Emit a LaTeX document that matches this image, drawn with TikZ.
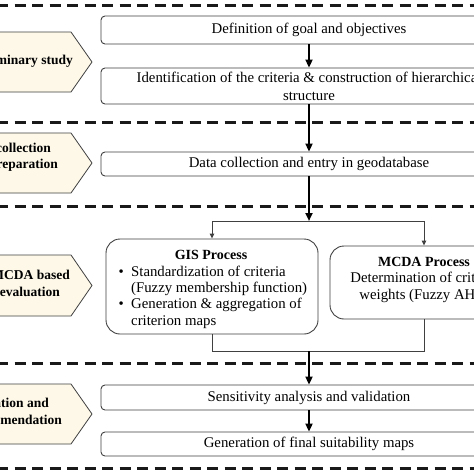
\documentclass[tikz,border=0pt]{standalone}
\usepackage{fontspec}
\setmainfont{Liberation Serif}
\usetikzlibrary{arrows.meta}
\definecolor{stagefill}{RGB}{253,248,232}
\definecolor{boxline}{RGB}{64,64,64}
\definecolor{dashcol}{RGB}{25,25,25}
\begin{document}
\begin{tikzpicture}[x=1pt,y=-1pt,
 sepline/.style={draw=dashcol, line width=3pt, dash pattern=on 11pt off 6.5pt},
 stage/.style={draw=boxline, line width=0.8pt, fill=stagefill},
 stagetxt/.style={font=\fontsize{13.5}{15.5}\selectfont\bfseries, anchor=mid east, inner sep=0pt},
 flowbox/.style={draw=boxline, line width=0.9pt, rounded corners=4pt, minimum width=416pt, inner sep=0pt, align=center, font=\fontsize{14.8}{18}\selectfont},
 procbox/.style={draw=boxline, line width=0.9pt, rounded corners=14pt, inner sep=0pt},
 headtxt/.style={font=\fontsize{14}{16}\selectfont\bfseries, inner sep=0pt},
 bodytxt/.style={font=\fontsize{14.8}{17}\selectfont, inner sep=0pt, align=center},
 mainarrow/.style={draw=black, line width=2pt, -{Triangle[length=8pt,width=7pt]}},
 thinline/.style={draw=boxline, line width=0.9pt},
 thinarrow/.style={thinline, -{Triangle[length=5pt,width=4.5pt]}},
]
\useasboundingbox (0,0) rectangle (474,474);
\clip (0,0) rectangle (474,474);
\fill[white] (0,0) rectangle (474,474);

% separators
\foreach \yy in {5,122,206,363,468} \draw[sepline] (-3,\yy) -- (480,\yy);

% stage pentagons
\draw[stage] (-40,32) -- (71,32) -- (92,62) -- (71,92) -- (-40,92) -- cycle;
\draw[stage] (-40,133) -- (71,133) -- (92,163) -- (71,193) -- (-40,193) -- cycle;
\draw[stage] (-40,255) -- (71,255) -- (92,285.5) -- (71,316) -- (-40,316) -- cycle;
\draw[stage] (-40,384) -- (71,384) -- (92,414) -- (71,444) -- (-40,444) -- cycle;

\node[stagetxt] (s1) at (73,62) {Preliminary study};
\node[stagetxt] (s2a) at (51,150) {Data collection};
\node[stagetxt] (s2b) at (58,166.5) {and preparation};
\node[stagetxt] (s3a) at (70,277) {MCDA based};
\node[stagetxt] (s3b) at (60,294) {evaluation};
\node[stagetxt] (s4a) at (49,405) {Validation and};
\node[stagetxt] (s4b) at (62,422) {recommendation};

% flow boxes
\node[flowbox, minimum height=28pt] (goal) at (309,30) {Definition of goal and objectives};
\node[flowbox, minimum height=36pt] (crit) at (309,86) {Identification of the criteria \& construction of hierarchical\\structure};
\node[flowbox, minimum height=24pt] (data) at (309,164) {Data collection and entry in geodatabase};

\node[procbox, minimum width=212pt, minimum height=95pt] (gis) at (212,286.5) {};
\node[headtxt] (gishead) at (211,255) {GIS Process};
\node[anchor=west, inner sep=0pt, font=\fontsize{14.8}{16.3}\selectfont] (gislist) at (118.4,297.5)
 {\begin{tabular}{@{}l@{\hspace{7.4pt}}l@{}}\textbullet & Standardization of criteria\\ & (Fuzzy membership function)\\ \textbullet & Generation \& aggregation of\\ & criterion maps\end{tabular}};

\node[procbox, minimum width=188pt, minimum height=73pt] (mcda) at (424,282.5) {};
\node[headtxt] (mcdahead) at (424,262) {MCDA Process};
\node[bodytxt] (mcdabody) at (424,287.5) {Determination of criteria\\weights (Fuzzy AHP)};

\node[flowbox, minimum height=25pt] (sens) at (309,397.5) {Sensitivity analysis and validation};
\node[flowbox, minimum height=24pt] (final) at (309,444) {Generation of final suitability maps};

% junctions
\coordinate (jt) at (309,221);
\coordinate (jtl) at (212,221);
\coordinate (jtr) at (424,221);
\coordinate (jb) at (309,351);
\coordinate (jbl) at (212,351);
\coordinate (jbr) at (424,351);

% connectors
\draw[mainarrow] (goal.south) -- (crit.north);
\draw[mainarrow] (crit.south) -- (data.north);
\draw[mainarrow] (data.south) -- (jt);
\draw[thinline] (jtl) -- (jtr);
\draw[thinarrow] (jtl) -- (gis.north);
\draw[thinarrow] (jtr) -- (mcda.north);
\draw[thinline] (gis.south) -- (jbl) -- (jbr) -- (mcda.south);
\draw[mainarrow] (jb) -- (sens.north);
\draw[mainarrow] (sens.south) -- (final.north);
\end{tikzpicture}
\end{document}
